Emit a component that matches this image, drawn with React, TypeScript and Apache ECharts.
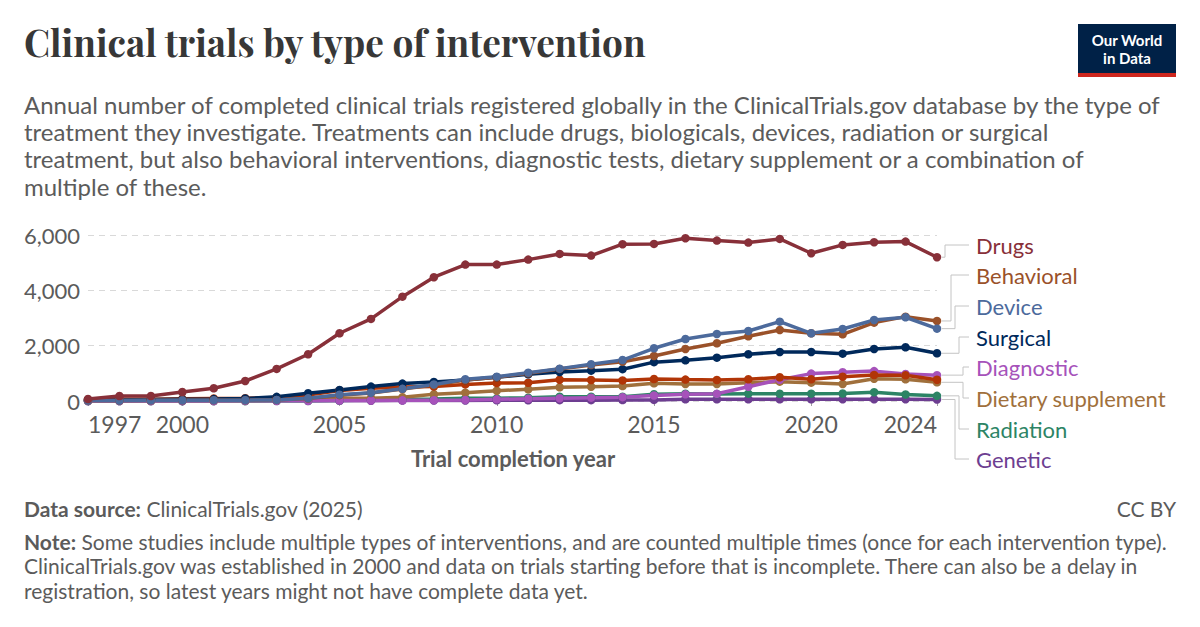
import React, { useEffect, useRef } from "react";
import * as echarts from "echarts";

// Trial completion years shown on the horizontal axis
const years = [
  "1997", "1998", "1999", "2000", "2001", "2002", "2003", "2004", "2005", "2006",
  "2007", "2008", "2009", "2010", "2011", "2012", "2013", "2014", "2015", "2016",
  "2017", "2018", "2019", "2020", "2021", "2022", "2023", "2024",
];
const labelledYears = ["1997", "2000", "2005", "2010", "2015", "2020", "2024"];

// Completed trials per year, by intervention type
const drugs = [72, 180, 180, 325, 460, 723, 1160, 1689, 2448, 2966, 3772, 4473, 4930, 4930, 5110, 5316, 5255, 5667, 5678, 5884, 5797, 5725, 5859, 5341, 5642, 5739, 5761, 5197];
const behavioral = [20, 20, 25, 25, 30, 30, 40, 90, 210, 290, 430, 580, 760, 860, 1000, 1160, 1300, 1421, 1627, 1880, 2087, 2340, 2568, 2448, 2412, 2832, 3049, 2893];
const device = [20, 20, 25, 25, 30, 30, 40, 97, 228, 300, 440, 600, 785, 880, 1024, 1170, 1327, 1480, 1906, 2240, 2423, 2532, 2868, 2448, 2604, 2929, 3027, 2615];
const surgical = [40, 40, 50, 60, 70, 90, 150, 280, 400, 520, 630, 690, 760, 857, 966, 1049, 1096, 1150, 1405, 1470, 1566, 1689, 1772, 1772, 1711, 1881, 1942, 1725];
const biological = [50, 60, 60, 80, 90, 100, 130, 220, 380, 460, 510, 520, 600, 650, 660, 770, 760, 745, 795, 775, 760, 785, 857, 785, 880, 940, 930, 770];
const diagnostic = [0, 0, 0, 0, 0, 5, 5, 10, 15, 20, 25, 30, 40, 60, 80, 100, 120, 140, 200, 240, 260, 517, 770, 990, 1040, 1080, 975, 935];
const dietary = [5, 5, 5, 10, 10, 15, 30, 40, 97, 100, 134, 242, 300, 372, 423, 495, 517, 542, 640, 615, 615, 662, 698, 662, 615, 806, 785, 676];
const radiation = [0, 0, 0, 0, 0, 0, 5, 10, 20, 40, 60, 72, 97, 97, 120, 156, 156, 156, 242, 265, 255, 265, 262, 265, 270, 318, 235, 186];
const genetic = [0, 0, 0, 0, 0, 0, 0, 0, 5, 10, 15, 20, 20, 25, 25, 30, 30, 35, 40, 60, 60, 60, 60, 60, 65, 65, 65, 55];

// Drawing order: first entry sits at the bottom
const seriesDefs = [
  { name: "Genetic", data: genetic, color: "#6D3E91" },
  { name: "Radiation", data: radiation, color: "#2C8465" },
  { name: "Dietary supplement", data: dietary, color: "#A0703C" },
  { name: "Diagnostic", data: diagnostic, color: "#A652BA" },
  { name: "Biological", data: biological, color: "#B13507" },
  { name: "Surgical", data: surgical, color: "#00295B" },
  { name: "Behavioral", data: behavioral, color: "#9A5129" },
  { name: "Device", data: device, color: "#4C6A9C" },
  { name: "Drugs", data: drugs, color: "#883039" },
];

// Right-hand labels: text row and elbow position of each connector
const labelLayout = [
  { name: "Drugs", y: 245, bend: 945 },
  { name: "Behavioral", y: 275, bend: 951 },
  { name: "Device", y: 306, bend: 955 },
  { name: "Surgical", y: 337, bend: 959 },
  { name: "Diagnostic", y: 367, bend: 963 },
  { name: "Dietary supplement", y: 398, bend: 963 },
  { name: "Radiation", y: 429, bend: 959 },
  { name: "Genetic", y: 459, bend: 955 },
];

const subtitleLines = [
  "Annual number of completed clinical trials registered globally in the ClinicalTrials.gov database by the type of",
  "treatment they investigate. Treatments can include drugs, biologicals, devices, radiation or surgical",
  "treatment, but also behavioral interventions, diagnostic tests, dietary supplement or a combination of",
  "multiple of these.",
];

const noteLines = [
  "{b|Note:} Some studies include multiple types of interventions, and are counted multiple times (once for each intervention type).",
  "ClinicalTrials.gov was established in 2000 and data on trials starting before that is incomplete. There can also be a delay in",
  "registration, so latest years might not have complete data yet.",
];

const SANS = "Lato, 'Noto Sans', sans-serif";
const GREY = "#5b5b5b";

export default function App() {
  const ref = useRef<HTMLDivElement>(null);

  useEffect(() => {
    document.body.style.margin = "0";
    if (!ref.current) return;
    const chart = echarts.init(ref.current, null, { renderer: "svg" });
    const showYear = (_i: number, v: string) => labelledYears.includes(v);

    chart.setOption({
      animation: false,
      grid: { left: 88, right: 263, top: 235, bottom: 226 },
      xAxis: {
        type: "category",
        data: years,
        boundaryGap: false,
        axisLine: { show: false },
        axisTick: { show: true, interval: showYear, length: 5, lineStyle: { color: "#a0a0a0" } },
        axisLabel: {
          interval: showYear,
          color: GREY,
          fontFamily: SANS,
          fontSize: 23,
          margin: 11,
          alignMinLabel: "left",
          alignMaxLabel: "right",
        },
        splitLine: { show: false },
      },
      yAxis: {
        type: "value",
        min: 0,
        max: 6000,
        interval: 2000,
        axisLine: { show: false },
        axisTick: { show: false },
        axisLabel: {
          color: GREY,
          fontFamily: SANS,
          fontSize: 22,
          margin: 8,
          formatter: (v: number) => v.toLocaleString("en-US"),
        },
        splitLine: { lineStyle: { color: "#d9d9d9", type: [6, 5], width: 1 } },
      },
      series: seriesDefs.map((s) => ({
        name: s.name,
        type: "line",
        data: s.data,
        symbol: "circle",
        symbolSize: 8.5,
        showSymbol: true,
        lineStyle: { width: 3.5, color: s.color },
        itemStyle: { color: s.color },
        emphasis: { disabled: true },
        silent: true,
      })),
    });

    const graphics: any[] = [];

    // Title and subtitle
    graphics.push({
      type: "text",
      left: 24,
      top: 23,
      style: {
        text: "Clinical trials by type of intervention",
        font: "bold 37px 'Playfair Display', 'Liberation Serif', serif",
        fill: "#373737",
      },
    });
    subtitleLines.forEach((line, i) => {
      graphics.push({
        type: "text",
        x: 24,
        y: 104 + i * 27.4,
        style: { text: line, font: `24px ${SANS}`, fill: GREY, verticalAlign: "middle" },
      });
    });

    // Logo
    graphics.push({ type: "rect", shape: { x: 1078, y: 24, width: 98, height: 53 }, style: { fill: "#002147" } });
    graphics.push({ type: "rect", shape: { x: 1078, y: 73, width: 98, height: 4 }, style: { fill: "#CE261E" } });
    graphics.push({
      type: "text",
      x: 1127,
      y: 39.5,
      style: { text: "Our World", font: `bold 15px ${SANS}`, lineHeight: 15, fill: "#ffffff", align: "center", verticalAlign: "middle" },
    });
    graphics.push({
      type: "text",
      x: 1127,
      y: 58,
      style: { text: "in Data", font: `bold 15px ${SANS}`, lineHeight: 15, fill: "#ffffff", align: "center", verticalAlign: "middle" },
    });

    // Axis title
    graphics.push({
      type: "text",
      x: 513,
      y: 458,
      style: { text: "Trial completion year", font: `bold 22px ${SANS}`, fill: GREY, align: "center", verticalAlign: "middle" },
    });

    // Footer
    const rich = { b: { fontWeight: "bold", fontFamily: SANS, fontSize: 21, fill: GREY } };
    graphics.push({
      type: "text",
      x: 24,
      y: 508,
      style: {
        text: "{b|Data source:} ClinicalTrials.gov (2025)",
        font: `21px ${SANS}`,
        fill: GREY,
        verticalAlign: "middle",
        rich,
      },
    });
    graphics.push({
      type: "text",
      x: 1176,
      y: 508,
      style: { text: "CC BY", font: `21px ${SANS}`, fill: GREY, align: "right", verticalAlign: "middle" },
    });
    noteLines.forEach((line, i) => {
      graphics.push({
        type: "text",
        x: 24,
        y: 541 + i * 24.5,
        style: { text: line, font: `21px ${SANS}`, fill: GREY, verticalAlign: "middle", rich },
      });
    });

    // Series labels with elbow connectors from each line's last point
    const last = years.length - 1;
    labelLayout.forEach((l) => {
      const def = seriesDefs.find((s) => s.name === l.name)!;
      const [px, py] = chart.convertToPixel({ xAxisIndex: 0, yAxisIndex: 0 }, [last, def.data[last]]) as number[];
      graphics.push({
        type: "polyline",
        shape: { points: [[px + 5, py], [l.bend, py], [l.bend, l.y], [969, l.y]] },
        style: { stroke: "#c4c4c4", lineWidth: 1, fill: null },
        z: 1,
      });
      graphics.push({
        type: "text",
        x: 976,
        y: l.y,
        style: { text: l.name, font: `22px ${SANS}`, fill: def.color, verticalAlign: "middle" },
      });
    });

    chart.setOption({ graphic: graphics });
    return () => chart.dispose();
  }, []);

  return <div ref={ref} style={{ width: 1200, height: 627 }} />;
}
